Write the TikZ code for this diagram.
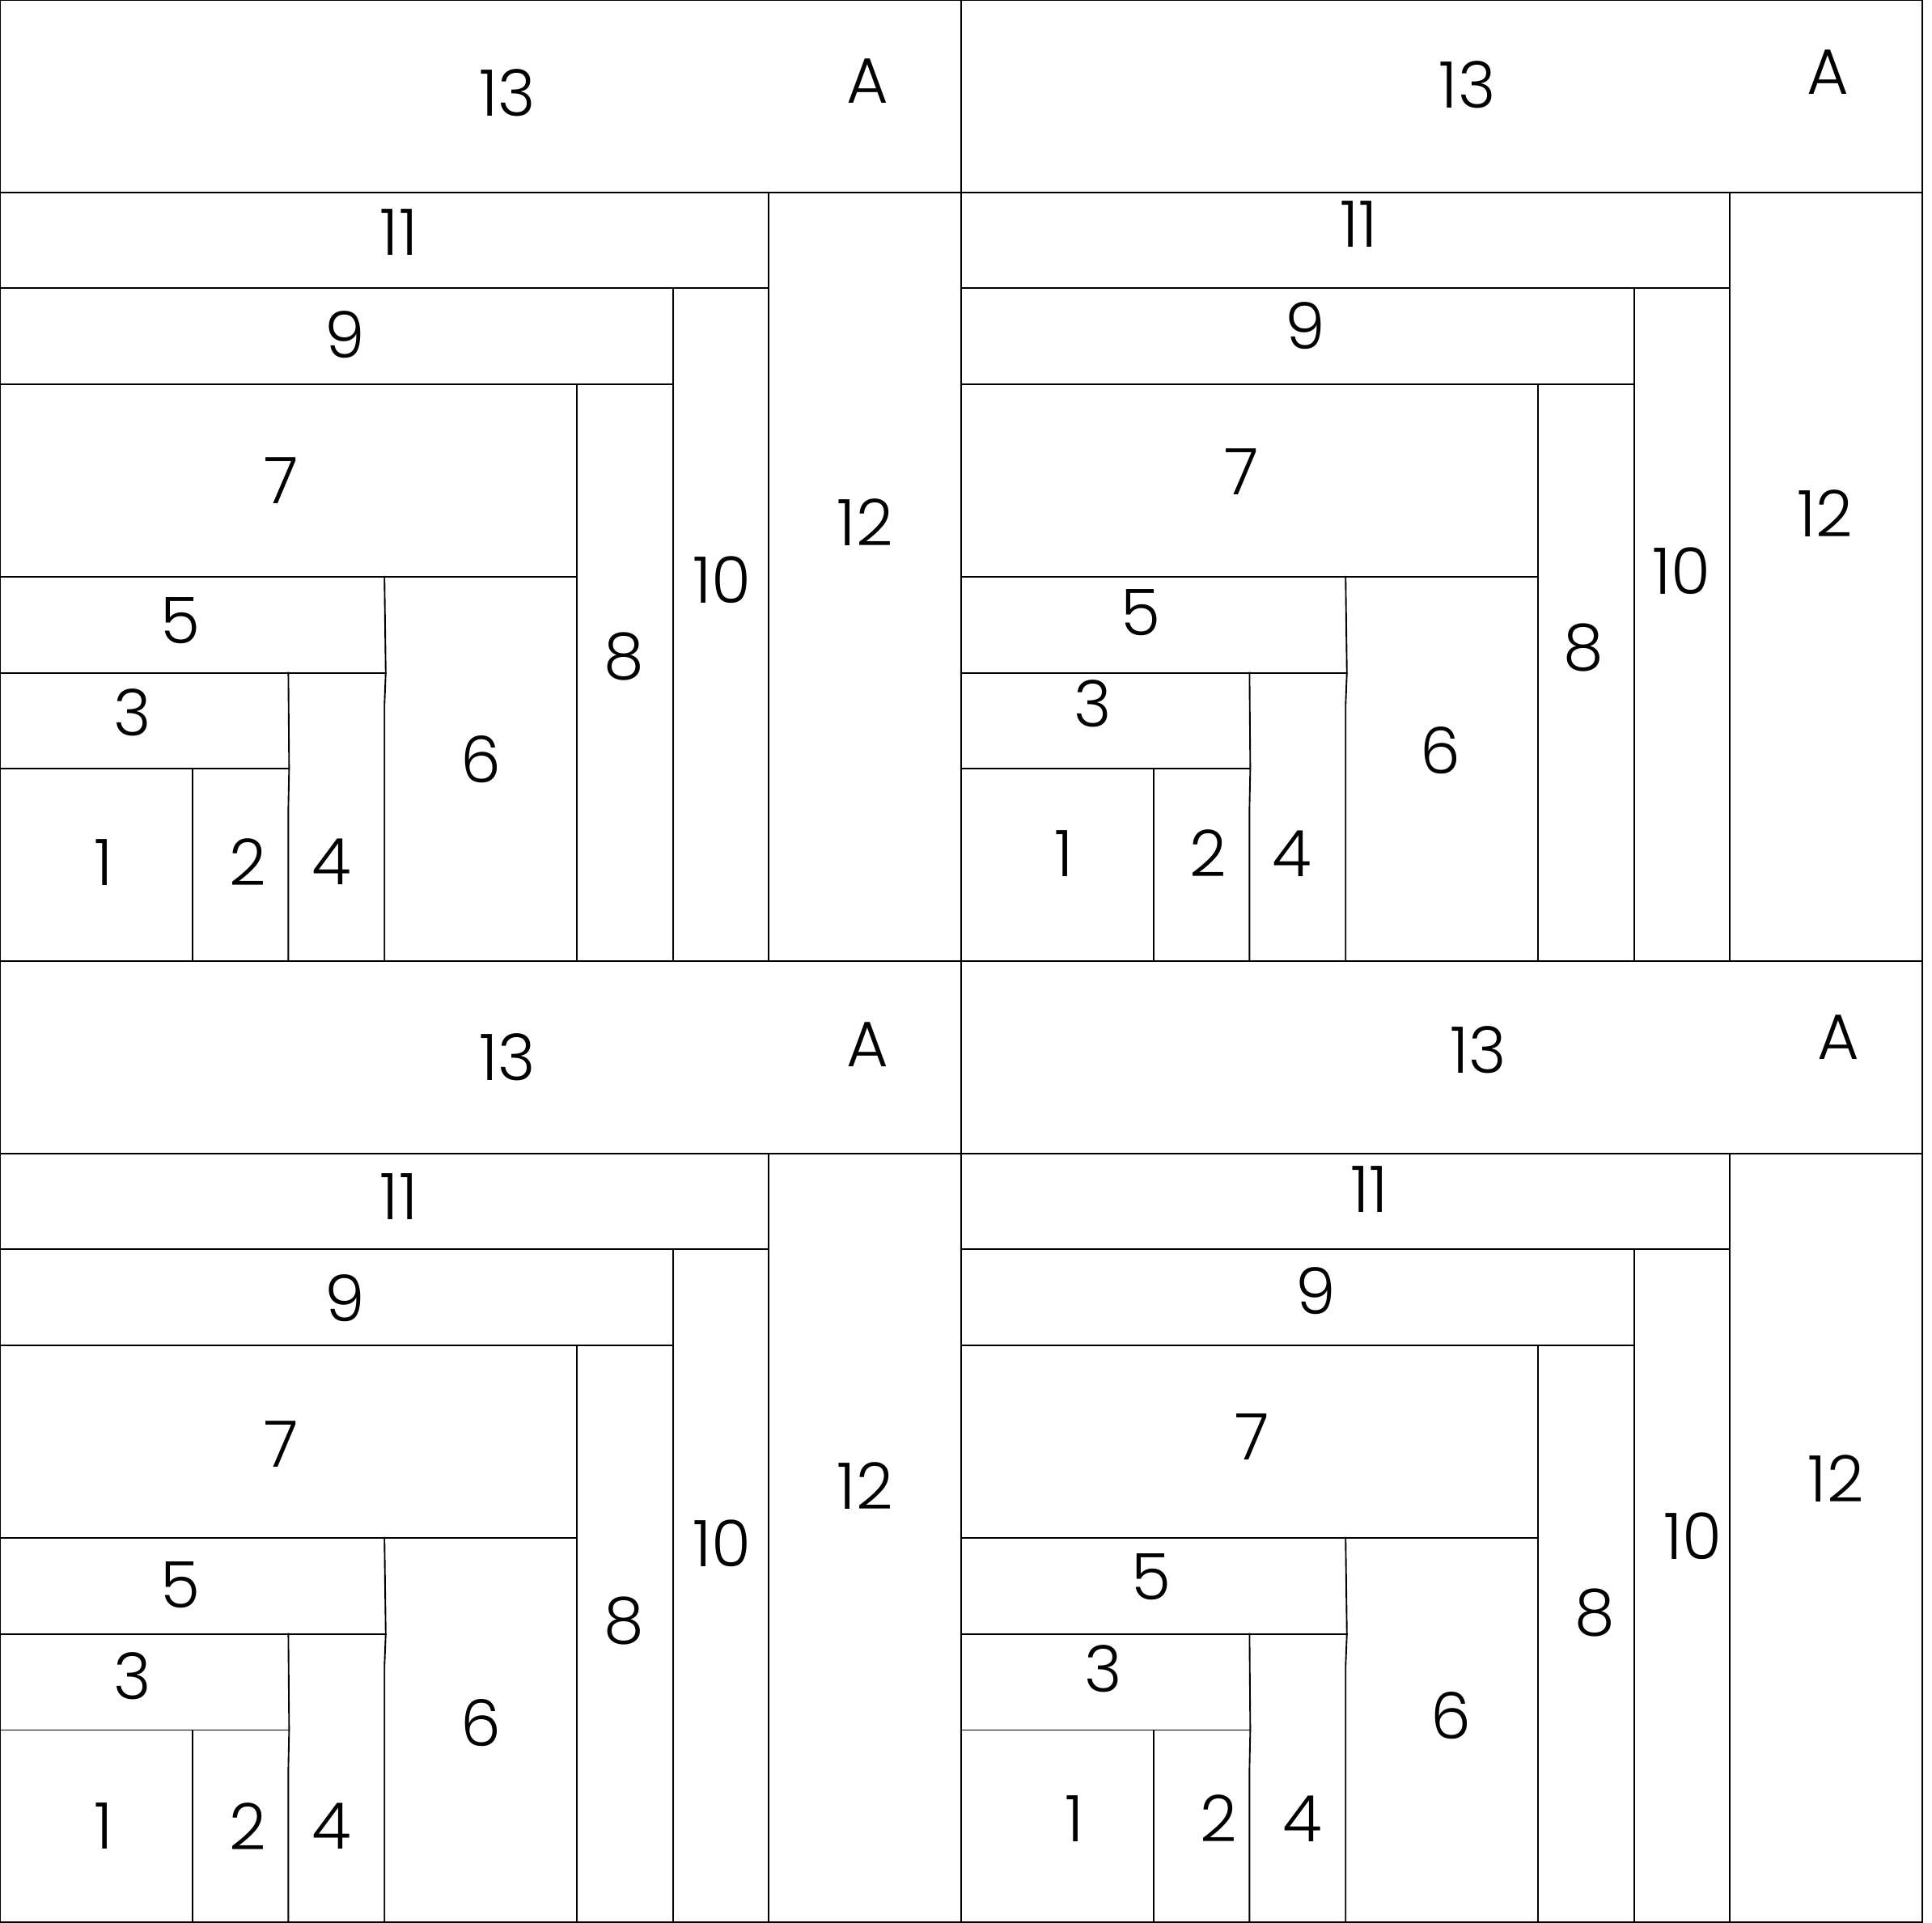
\documentclass[tikz,border=0pt]{standalone}
\usepackage{fontspec}
\setmainfont{Poppins Light}
\tikzset{
  seam/.style={line width=0.45pt, line join=miter, line cap=rect},
  lbl/.style={inner sep=0pt, font=\fontsize{19}{19}\selectfont},
}
\newcommand\logblock[5]{%
  \begin{scope}[shift={(#2,#3)}]
    \draw[seam] (0,0) rectangle (10,10);
    \draw[seam] (0,2) -- (10,2);
    \draw[seam] (8,2) -- (8,10);
    \draw[seam] (0,3) -- (8,3);
    \draw[seam] (7,3) -- (7,10);
    \draw[seam] (0,4) -- (7,4);
    \draw[seam] (6,4) -- (6,10);
    \draw[seam] (0,6) -- (6,6);
    \draw[seam] (4,6) -- (4.013,7) -- (4,7.34) -- (4,10);
    \draw[seam] (0,7) -- (4.013,7);
    \draw[seam] (3,7) -- (3.008,8) -- (3,8.4) -- (3,10);
    \draw[seam] (0,8) -- (3.008,8);
    \draw[seam] (2,8) -- (2,10);
    \begin{scope}[shift={(#4,#5)}]
      \node[lbl] (#1p13) at (5.28,0.97) {13};
      \node[lbl] (#1pA)  at (9.03,0.84) {A};
      \node[lbl] (#1p11) at (4.15,2.42) {11};
      \node[lbl] (#1p12) at (9.00,5.43) {12};
      \node[lbl] (#1p9)  at (3.59,3.48) {9};
      \node[lbl] (#1p10) at (7.51,6.03) {10};
      \node[lbl] (#1p7)  at (2.93,5.00) {7};
      \node[lbl] (#1p8)  at (6.49,6.83) {8};
      \node[lbl] (#1p5)  at (1.88,6.46) {5};
      \node[lbl] (#1p6)  at (5.00,7.90) {6};
      \node[lbl] (#1p3)  at (1.38,7.41) {3};
      \node[lbl] (#1p4)  at (3.45,8.97) {4};
      \node[lbl] (#1p1)  at (1.08,8.97) {1};
      \node[lbl] (#1p2)  at (2.58,8.97) {2};
    \end{scope}
  \end{scope}}
\begin{document}
\begin{tikzpicture}[yscale=-1]
  \useasboundingbox[fill=white] (0,0) rectangle (20.101,20);
  \logblock{tl}{0}{0}{0}{0}
  \logblock{tr}{10}{0}{-0.013}{-0.09}
  \logblock{bl}{0}{10}{0}{0.03}
  \logblock{br}{10}{10}{0.10}{-0.05}
\end{tikzpicture}
\end{document}
